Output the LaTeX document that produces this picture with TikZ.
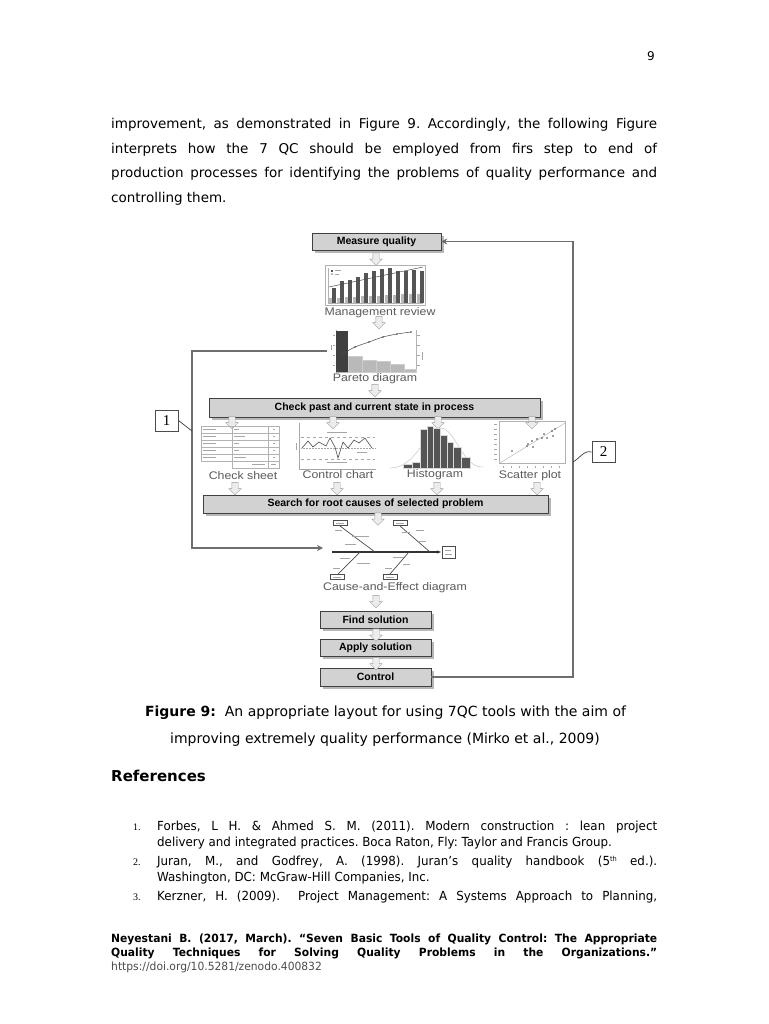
\documentclass[tikz,border=0pt]{standalone}
\usepackage{fontspec}
\setmainfont{DejaVu Sans}
\newfontfamily\diagfont{Liberation Sans}
\newfontfamily\labfont[FakeStretch=1.12]{Liberation Sans}
\newfontfamily\numfont{Liberation Serif}
\newfontfamily\reffont[FakeStretch=0.95]{DejaVu Sans}
\usepackage{xcolor}
\usepackage{tikz}
\usetikzlibrary{shapes.arrows,shadows,arrows.meta}
\definecolor{boxgray}{HTML}{D2D2D2}
\definecolor{linegray}{HTML}{6E6E6E}
\definecolor{labgray}{HTML}{5A5A5A}
\definecolor{bardark}{HTML}{555555}
\newcommand{\jline}[2][546pt]{\hbox to #1{#2}}
\frenchspacing
\tikzset{
  stagebox/.style={draw=black!75, fill=boxgray, inner sep=0pt,
    font=\diagfont\bfseries\fontsize{10.5}{11}\selectfont,
    drop shadow={shadow xshift=3pt, shadow yshift=-3pt, fill=gray!80, opacity=.7}},
  fatarrow/.style={single arrow, shape border rotate=270, draw=gray!75, fill=gray!15,
    minimum height=12.5pt, inner sep=3pt, single arrow head extend=3pt, single arrow head indent=0pt},
  chartlab/.style={font=\labfont\fontsize{11}{12}\selectfont, text=labgray, inner sep=0pt},
  loopline/.style={draw=linegray, line width=1.6pt},
  numbox/.style={draw=black!70, line width=0.9pt, fill=white, minimum width=23pt, minimum height=21pt,
    inner sep=0pt, font=\numfont\fontsize{15}{15}\selectfont},
  tinytext/.style={draw=gray!70, line width=0.5pt},
  chartline/.style={draw=gray!60, line width=0.4pt},
  bodytext/.style={anchor=base west, inner sep=0pt, font=\fontsize{13.5}{16}\selectfont},
  captext/.style={anchor=base, inner sep=0pt, font=\fontsize{14}{16}\selectfont},
  reftext/.style={anchor=base west, inner sep=0pt, font=\reffont\fontsize{12.5}{15}\selectfont},
  refnum/.style={anchor=base west, inner sep=0pt, font=\numfont\fontsize{10}{12}\selectfont},
  foottext/.style={anchor=base west, inner sep=0pt, font=\reffont\fontsize{11.3}{13}\selectfont},
}
\begin{document}
\begin{tikzpicture}[x=1pt,y=-1pt]
\fill[white] (0,0) rectangle (768,1024);
\useasboundingbox (0,0) rectangle (768,1024);

% page number and running text
\node[bodytext, font=\fontsize{12}{14}\selectfont] (pageno) at (647,61) {9};
\node[bodytext] (par1) at (111,129) {\jline{improvement, as demonstrated in Figure 9. Accordingly, the following Figure}};
\node[bodytext] (par2) at (111,153.5) {\jline{interprets how the 7 QC should be employed from firs step to end of}};
\node[bodytext] (par3) at (111,178) {\jline{production processes for identifying the problems of quality performance and}};
\node[bodytext] (par4) at (111,203) {controlling them.};

% flow boxes
\node[stagebox, minimum width=129pt, minimum height=17pt] (measure) at (376.5,241.5) {Measure quality};
\node[stagebox, minimum width=331pt, minimum height=19pt] (check) at (374.5,407.5) {Check past and current state in process};
\node[stagebox, minimum width=345pt, minimum height=18pt] (search) at (375.5,504) {Search for root causes of selected problem};
\node[stagebox, minimum width=111pt, minimum height=17pt] (find) at (375.5,619.5) {Find solution};
\node[stagebox, minimum width=111pt, minimum height=17pt] (apply) at (375.5,647.5) {Apply solution};
\node[stagebox, minimum width=111pt, minimum height=18pt] (control) at (375.5,677) {Control};

% block arrows
\node[fatarrow] (a1) at (376,257.5) {};
\node[fatarrow] (a2) at (379,321) {};
\node[fatarrow] (a3) at (375,389) {};
\foreach \x [count=\i] in {232,333,438,532}
  \node[fatarrow] (b\i) at (\x,421) {};
\foreach \x [count=\i] in {235,337,437,537}
  \node[fatarrow] (c\i) at (\x,487) {};
\node[fatarrow] (a4) at (378,517.5) {};
\node[fatarrow] (a5) at (376,600) {};
\node[fatarrow] (a6) at (376,633.5) {};
\node[fatarrow] (a7) at (376,662) {};

% management review chart
\draw[chartline] (325,265) rectangle (425,305);
\draw[chartline] (328,268) -- (328,303) -- (423,303);
\foreach \h [count=\i from 0] in {15,22,23,26,30,32,34,35,32,32,33,32} {
  \fill[gray!55] (329+8*\i,303) rectangle ++(2.5,-5-0.4*\i);
  \fill[bardark] (331.8+8*\i,303) rectangle ++(4,-\h);
}
\draw[gray!60!black, line width=0.5pt] (329,287) -- (423,267);
\fill[bardark] (331,269.5) rectangle ++(2,2);
\fill[gray!55] (331,273) rectangle ++(2,2);
\draw[tinytext] (334.5,270.5) -- (341,270.5) (334.5,274) -- (339,274);
\node[chartlab] (mgmtlab) at (380,313) {Management review};

% pareto diagram
\draw[chartline] (336,330) -- (336,372) -- (416,372) -- (416,330);
\fill[gray!50!black] (336,331) rectangle (348,372);
\foreach \l/\r/\t in {348/362/356,362/376/360,376/390/361,390/404/364,404/416/369}
  \filldraw[fill=gray!55, draw=gray!40] (\l,\t) rectangle (\r,372);
\draw[gray!55!black, line width=0.5pt] plot[smooth] coordinates {(342,354) (355,347) (369,342) (383,337) (397,334) (411,332)};
\foreach \p in {(342,354),(355,347),(369,342),(383,337),(397,334),(411,332)}
  \fill[black!70] \p circle (0.9);
\foreach \y in {335,345,355,365}
  \draw[tinytext] (333,\y) -- (335,\y) (417,\y) -- (420,\y);
\draw[tinytext] (331,345) -- (331,350) (422,352) -- (422,360);
\node[chartlab] (paretolab) at (375,379) {Pareto diagram};

% check sheet
\draw[chartline] (201,426) rectangle (279,461);
\draw[chartline] (232,461) rectangle (279,468);
\foreach \y in {433,440,447,454}
  \draw[chartline] (201,\y) -- (279,\y);
\draw[chartline] (232,426) -- (232,461) (268,426) -- (268,468);
\foreach \y in {429.5,436.5,443.5,450.5,457.5} {
  \draw[tinytext] (203,\y) -- (216,\y);
  \draw[tinytext] (234,\y) -- (239,\y);
  \draw[tinytext] (273,\y) -- (275,\y);
}
\draw[tinytext] (234,436.5) -- (245,436.5) (234,457.5) -- (246,457.5);
\draw[tinytext] (252,464.5) -- (265,464.5) (271,464.5) -- (276,464.5);
\node[chartlab] (checklab) at (243,476) {Check sheet};

% control chart
\draw[chartline, gray!70] (299,423) -- (299,469) -- (376,469);
\draw[gray!70, dashed, line width=0.5pt] (301,437) -- (375,437) (301,459) -- (375,459);
\draw[gray!70, densely dotted, line width=0.5pt] (301,448) -- (375,448);
\draw[black!70, line width=0.6pt] (302,448) -- (308,441) -- (313,447) -- (319,442) -- (326,446) -- (330,438)
  -- (335,447) -- (338,458) -- (343,442) -- (348,448) -- (354,440) -- (359,443) -- (365,438) -- (372,448);
\draw[tinytext] (327,432) -- (347,432) (327,462.5) -- (347,462.5) (357,452) -- (367,452) (296,443) -- (296,450);
\node[chartlab] (ctrllab) at (338,475) {Control chart};

% histogram
\draw[gray!45, line width=0.5pt] (390,468) .. controls (418,468) and (425,428) .. (440,428)
  .. controls (456,428) and (462,468) .. (483,467);
\foreach \l/\r/\t in {403/412/464,412/420/462,420/427/429,427/433/426,433/440/428,440/447/435,447/453/442,453/461/447,461/470/457}
  \filldraw[fill=bardark, draw=gray!30, line width=0.3pt] (\l,\t) rectangle (\r,468);
\node[chartlab] (histlab) at (435,475) {Histogram};

% scatter plot
\draw[chartline] (499,421) rectangle (565,463);
\draw[gray!55, line width=0.5pt] (500,463) -- (565,423);
\foreach \p in {(512,451),(527,446),(528,444),(532,441),(533,447),(537,439),(542,438),(544,434),(547,438),(552,431),(555,429),(553,436)}
  \fill[black!75] \p circle (0.9);
\foreach \y in {424,429,434,439,444,449,454,459}
  \draw[tinytext] (494,\y) -- (497,\y);
\foreach \x in {503,511,519,527,535,543,551,559}
  \draw[tinytext] (\x,466) -- (\x,468);
\node[chartlab] (scatlab) at (530,476) {Scatter plot};

% cause and effect diagram
\draw[black!80, line width=1.1pt, -{Stealth[length=4pt]}] (332,552) -- (441,552);
\draw[black!70, line width=0.6pt] (442,546) rectangle (455,558);
\draw[tinytext] (445,550) -- (451,550) (445,554) -- (452,554);
\draw[black!70, line width=0.7pt] (340,526) -- (375,552) (400,526) -- (430,552)
  (360,552) -- (338,574) (409,552) -- (390,574);
\foreach \c in {(340,523),(400,523),(337,577),(390,577)} {
  \draw[black!70, line width=0.5pt] \c ++(-7,-2.5) rectangle ++(14,5);
  \draw[tinytext] \c ++(-4,0) -- ++(8,0);
}
\draw[tinytext] (335,530) -- (342,530) (352,536) -- (369,536) (345,544) -- (356,544)
  (402,532) -- (410,532) (416,530) -- (424,530) (418,541) -- (426,541)
  (340,558) -- (350,558) (357,563) -- (370,563) (333,568) -- (340,568)
  (393,557) -- (404,557) (403,564) -- (410,564) (385,568) -- (392,568);
\node[chartlab] (fishlab) at (395,588) {Cause-and-Effect diagram};

% feedback loops
\coordinate (pareto-w) at (327,351);
\coordinate (fish-w) at (323,548);
\draw[loopline, -{Stealth[length=6pt,width=6pt]}] (pareto-w) -- ++(-135,0) |- (fish-w);
\draw[loopline, -{Stealth[length=6pt,width=6pt]}] (control.east) -- ++(142,0) |- (measure.east);

% numbered markers
\node[numbox] (n1) at (166.5,420.5) {1};
\node[numbox] (n2) at (603.5,452) {2};
\coordinate (lp1) at (192,431);
\coordinate (rp2) at (573,462);
\draw[black!75, line width=0.7pt] (n1.east) -- (lp1);
\draw[black!75, line width=0.7pt] (rp2) .. controls (580,458) and (584,450) .. (n2.west);

% caption
\node[captext] (cap1) at (385.5,716) {\textbf{Figure 9:}\ \ An appropriate layout for using 7QC tools with the aim of};
\node[captext] (cap2) at (385,743) {improving extremely quality performance (Mirko et al., 2009)};

% references
\node[bodytext, font=\bfseries\fontsize{15}{18}\selectfont] (refhead) at (111,781) {References};
\node[refnum] (r1n) at (133,830) {1.};
\node[reftext] (r1a) at (157,830) {\jline[500pt]{Forbes, L H. \& Ahmed S. M. (2011). Modern construction : lean project}};
\node[reftext] (r1b) at (157,846) {delivery and integrated practices. Boca Raton, Fly: Taylor and Francis Group.};
\node[refnum] (r2n) at (133,865) {2.};
\node[reftext] (r2a) at (157,865) {\jline[500pt]{Juran, M., and Godfrey, A. (1998). Juran’s quality handbook (5\raisebox{4pt}{\fontsize{7}{7}\selectfont th} ed.).}};
\node[reftext] (r2b) at (157,881) {Washington, DC: McGraw-Hill Companies, Inc.};
\node[refnum] (r3n) at (133,900) {3.};
\node[reftext] (r3a) at (157,900) {\jline[500pt]{Kerzner, H. (2009).\ \ Project Management: A Systems Approach to Planning,}};

% footer
\node[foottext, font=\reffont\bfseries\fontsize{11.3}{13}\selectfont] (foot1) at (111,942) {\jline{Neyestani B. (2017, March). “Seven Basic Tools of Quality Control: The Appropriate}};
\node[foottext, font=\reffont\bfseries\fontsize{11.3}{13}\selectfont] (foot2) at (111,956) {\jline{Quality Techniques for Solving Quality Problems in the Organizations.”}};
\node[foottext, text=black!70] (foot3) at (111,970) {https://doi.org/10.5281/zenodo.400832};
\end{tikzpicture}
\end{document}
